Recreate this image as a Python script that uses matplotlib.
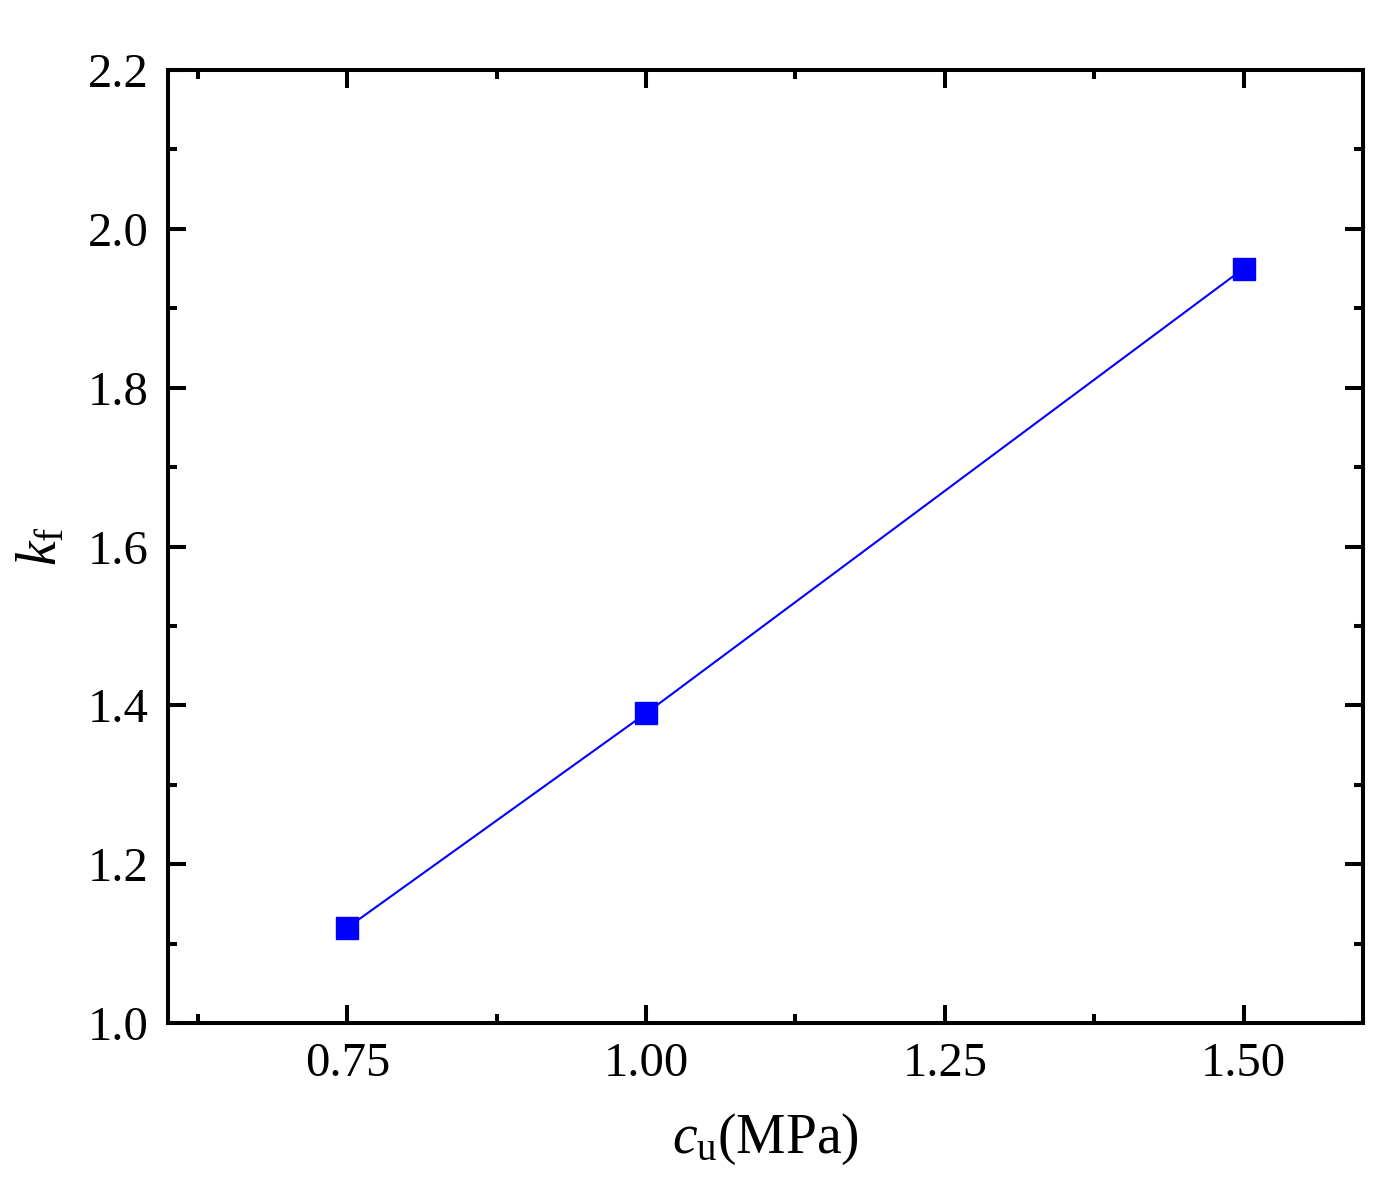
import matplotlib
matplotlib.use('Agg')
import matplotlib.pyplot as plt
from matplotlib.ticker import MultipleLocator

# data
cu = [0.75, 1.00, 1.50]
kf = [1.12, 1.39, 1.95]

plt.rcParams['font.family'] = ['Liberation Serif', 'DejaVu Serif']
plt.rcParams['mathtext.fontset'] = 'custom'
plt.rcParams['mathtext.rm'] = 'Liberation Serif'
plt.rcParams['mathtext.it'] = 'Liberation Serif:italic'

fig = plt.figure(figsize=(14, 12.01), dpi=100)
ax = fig.add_axes([0.12, 0.1482, 0.8536, 0.7935])

ax.plot(cu, kf, color='blue', linewidth=1.5, marker='s', markersize=15.5,
        markerfacecolor='blue', markeredgecolor='blue')

ax.set_xlim(0.6, 1.6)
ax.set_ylim(1.0, 2.2)
ax.xaxis.set_major_locator(MultipleLocator(0.25))
ax.xaxis.set_minor_locator(MultipleLocator(0.125))
ax.yaxis.set_major_locator(MultipleLocator(0.2))
ax.yaxis.set_minor_locator(MultipleLocator(0.1))
ax.set_xticks([0.75, 1.0, 1.25, 1.5])
ax.set_xticklabels(['0.75', '1.00', '1.25', '1.50'])
ax.yaxis.set_major_formatter(plt.FormatStrFormatter('%.1f'))

for s in ax.spines.values():
    s.set_linewidth(2.9)
ax.tick_params(which='both', direction='in', top=True, right=True, width=2.9, labelsize=35)
ax.tick_params(which='major', length=13, pad=14)
ax.tick_params(which='minor', length=6.5)
ax.tick_params(axis='y', which='major', pad=14)

ax.set_xlabel(r'$c_\mathrm{u}$(MPa)', fontsize=40, labelpad=18)
ax.set_ylabel(r'$k_\mathrm{f}$', fontsize=40, labelpad=14)

fig.savefig('out.png', dpi=100)
